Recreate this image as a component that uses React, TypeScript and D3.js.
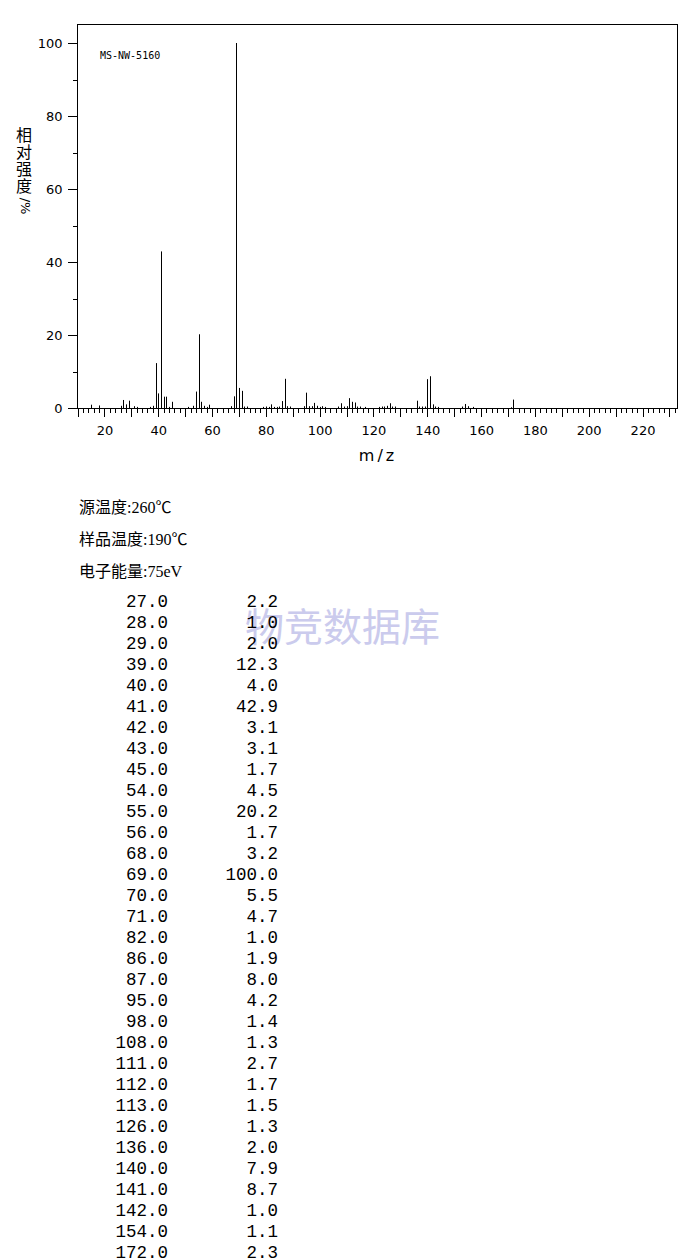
import React, {useEffect, useRef} from 'react';
import * as d3 from 'd3';

// peaks listed in the table (m/z, relative intensity %)
const tableMz = [27, 28, 29, 39, 40, 41, 42, 43, 45, 54, 55, 56, 68, 69, 70, 71, 82, 86, 87, 95,
  98, 108, 111, 112, 113, 126, 136, 140, 141, 142, 154, 172];
const tableInt = [2.2, 1.0, 2.0, 12.3, 4.0, 42.9, 3.1, 3.1, 1.7, 4.5, 20.2, 1.7, 3.2, 100.0, 5.5, 4.7,
  1.0, 1.9, 8.0, 4.2, 1.4, 1.3, 2.7, 1.7, 1.5, 1.3, 2.0, 7.9, 8.7, 1.0, 1.1, 2.3];

// small peaks only visible in the spectrum
const minorMz = [15, 18, 26, 31, 32, 37, 38, 44, 51, 53, 57, 58, 59, 67, 72, 73, 79, 80, 81, 83, 84, 85,
  88, 89, 94, 96, 97, 99, 100, 101, 102, 107, 109, 110, 114, 115, 117, 122, 123, 124, 125, 127, 128,
  137, 138, 139, 143, 144, 153, 155, 157, 171];
const minorInt = [0.9, 0.7, 0.6, 0.5, 0.3, 0.3, 0.6, 0.3, 0.3, 0.6, 0.6, 0.3, 0.9, 0.5, 0.4, 0.4, 0.3, 0.4,
  0.3, 0.3, 0.3, 0.4, 0.5, 0.4, 0.5, 0.5, 0.5, 0.6, 0.3, 0.5, 0.3, 0.4, 0.4, 0.5, 0.4, 0.4, 0.3, 0.3,
  0.4, 0.4, 0.6, 0.4, 0.4, 0.4, 0.4, 0.4, 0.4, 0.3, 0.4, 0.5, 0.3, 0.2];

const infoLines = ['源温度:260℃', '样品温度:190℃', '电子能量:75eV'];
const yLabelChars = ['相', '对', '强', '度'];

const W = 687;
const H = 1258;

function App() {
  const axisRef = useRef<SVGGElement>(null);

  const x = d3.scaleLinear().domain([10, 233]).range([77.5, 677.5]);
  const y = d3.scaleLinear().domain([0, 100]).range([408, 43]);
  const yTop = y(105);

  const peaks = tableMz.map((m, i) => ({m, v: tableInt[i]}))
    .concat(minorMz.map((m, i) => ({m, v: minorInt[i]})));

  useEffect(() => {
    const g = d3.select(axisRef.current);
    g.selectAll('*').remove();

    // x axis: minor every 2, major every 10, labels every 20
    g.append('g')
      .attr('transform', `translate(0, ${y(0)})`)
      .call(d3.axisBottom(x).tickValues(d3.range(10, 233, 2)).tickSize(5).tickFormat('' as any))
      .call((s: any) => s.select('.domain').remove());
    g.append('g')
      .attr('transform', `translate(0, ${y(0)})`)
      .call(d3.axisBottom(x).tickValues(d3.range(10, 233, 10)).tickSize(9).tickPadding(9)
        .tickFormat((d: any) => (d % 20 === 0 ? String(d) : '')))
      .call((s: any) => s.select('.domain').remove());

    // y axis
    g.append('g')
      .attr('transform', `translate(${x(10)}, 0)`)
      .call(d3.axisLeft(y).tickValues(d3.range(10, 100, 20)).tickSize(5).tickFormat('' as any))
      .call((s: any) => s.select('.domain').remove());
    g.append('g')
      .attr('transform', `translate(${x(10)}, 0)`)
      .call(d3.axisLeft(y).tickValues(d3.range(0, 101, 20)).tickSize(10).tickPadding(5))
      .call((s: any) => s.select('.domain').remove());

    g.selectAll('text')
      .attr('font-family', 'DejaVu Sans, sans-serif')
      .attr('font-size', 13)
      .attr('fill', '#000');
    g.selectAll('line')
      .attr('stroke', '#000')
      .attr('shape-rendering', 'crispEdges');
  });

  return (
    <svg width={W} height={H} viewBox={`0 0 ${W} ${H}`}
      style={{position: 'absolute', left: 0, top: 0, background: '#fff'}}>
      <rect width={W} height={H} fill="#fff"/>

      {/* frame */}
      <path d={`M${x(10)},${y(0)}V${yTop}H${x(233)}V${y(0)}H${x(10)}`}
        fill="none" stroke="#000" shapeRendering="crispEdges"/>

      <g ref={axisRef}/>

      {peaks.map((p, i) => (
        <line key={i} x1={Math.round(x(p.m)) + 0.5} x2={Math.round(x(p.m)) + 0.5}
          y1={y(0)} y2={y(p.v)} stroke="#000" strokeWidth={1}/>
      ))}

      <text x={100} y={58.5} fontFamily="DejaVu Sans Mono, monospace" fontSize={10}>MS-NW-5160</text>

      {/* y label, vertical */}
      <g fontFamily="Noto Sans CJK SC, sans-serif" fontSize={16} textAnchor="middle">
        {yLabelChars.map((c, i) => (
          <text key={c} x={24} y={141 + i * 17}>{c}</text>
        ))}
        <text transform="translate(21, 206) rotate(90)" fontFamily="DejaVu Sans, sans-serif"
          fontSize={13} textAnchor="middle">/%</text>
      </g>

      <text x={378} y={461} textAnchor="middle" fontFamily="DejaVu Sans, sans-serif"
        fontSize={16} letterSpacing={3}>m/z</text>

      {/* watermark */}
      <text x={245} y={641} fontFamily="Noto Sans CJK SC, sans-serif" fontSize={39}
        fill="#c2c2ea" opacity={0.85}>物竞数据库</text>

      {infoLines.map((t, i) => (
        <text key={t} x={79} y={513 + i * 32} fontFamily="Liberation Serif, Noto Sans CJK SC, serif"
          fontSize={16}>{t}</text>
      ))}

      <g fontFamily="Liberation Mono, monospace" fontSize={17.5} fill="#000">
        {tableMz.map((m, i) => (
          <React.Fragment key={m}>
            <text x={168} y={607 + i * 21} textAnchor="end">{m.toFixed(1)}</text>
            <text x={278} y={607 + i * 21} textAnchor="end">{tableInt[i].toFixed(1)}</text>
          </React.Fragment>
        ))}
      </g>
    </svg>
  );
}

export default App;
